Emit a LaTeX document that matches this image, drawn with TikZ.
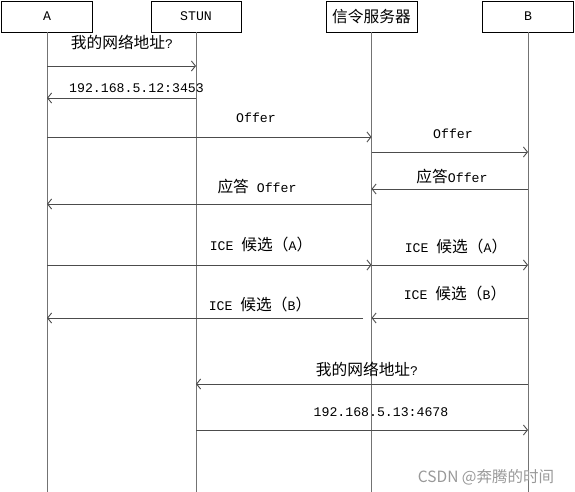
\documentclass[tikz,border=0pt]{standalone}
\usepackage{fontspec}
\setmainfont{Liberation Mono}
\newfontfamily\cjk[Scale=1.19]{Noto Sans CJK SC}
\newfontfamily\wmark{Noto Sans CJK SC}
\usetikzlibrary{arrows.meta}

\tikzset{
    party/.style={draw, line width=0.8pt, minimum width=91pt, minimum height=31pt, inner sep=0pt},
    life/.style={draw=black!55, line width=1pt},
    msg/.style={-{Straight Barb[length=4pt,width=10pt]}, draw=black!70, line width=0.9pt},
    lbl/.style={inner sep=0pt, anchor=base},
}

\begin{document}
\begin{tikzpicture}[x=1pt, y=-1pt, font=\fontsize{13.2}{15}\selectfont]
    \useasboundingbox (0,0) rectangle (575,492);

    \node[party] (A) at (47,16.5) {A};
    \node[party, minimum width=90pt] (STUN) at (196,16.5) {STUN};
    \node[party] (server) at (371.5,16.5) {\cjk 信令服务器};
    \node[party] (B) at (528,16.5) {B};

    \coordinate (Aend) at (47,492);
    \coordinate (STUNend) at (196,492);
    \coordinate (serverend) at (371.5,492);
    \coordinate (Bend) at (528,492);

    \draw[life] (A) -- (Aend);
    \draw[life] (STUN) -- (STUNend);
    \draw[life] (server) -- (serverend);
    \draw[life] (B) -- (Bend);

    % A asks STUN
    \draw[msg] (A |- 0,66) -- (STUN |- 0,66);
    \node[lbl] (ask1) at (122,49) {{\cjk 我的网络地址}?};
    \draw[msg] (STUN |- 0,98) -- (A |- 0,98);
    \node[lbl] (addr1) at (136.5,93) {192.168.5.12:3453};

    % offer and answer
    \draw[msg] (A |- 0,137) -- (server |- 0,137);
    \node[lbl] (offer1) at (256,122) {Offer};
    \draw[msg] (server |- 0,152) -- (B |- 0,152);
    \node[lbl] (offer2) at (453,139) {Offer};
    \draw[msg] (B |- 0,189) -- (server |- 0,189);
    \node[lbl] (answer2) at (452,182) {{\cjk 应答}Offer};
    \draw[msg] (server |- 0,204) -- (A |- 0,204);
    \node[lbl] (answer1) at (257,192) {{\cjk 应答} Offer};

    % candidates
    \draw[msg] (A |- 0,265) -- (server |- 0,265);
    \node[lbl] (candA1) at (261,250) {ICE {\cjk 候选（}A{\cjk ）}};
    \draw[msg] (server |- 0,265) -- (B |- 0,265);
    \node[lbl] (candA2) at (456,252) {ICE {\cjk 候选（}A{\cjk ）}};
    \draw[msg] (B |- 0,318) -- (server |- 0,318);
    \node[lbl] (candB2) at (455,299) {ICE {\cjk 候选（}B{\cjk ）}};
    \coordinate (candBstart) at (363,318);
    \draw[msg] (candBstart) -- (A |- 0,318);
    \node[lbl] (candB1) at (260,310) {ICE {\cjk 候选（}B{\cjk ）}};

    % B asks STUN
    \draw[msg] (B |- 0,384) -- (STUN |- 0,384);
    \node[lbl] (ask2) at (367,375) {{\cjk 我的网络地址}?};
    \draw[msg] (STUN |- 0,430) -- (B |- 0,430);
    \node[lbl] (addr2) at (381,416) {192.168.5.13:4678};

    \node[lbl, text=black!40] (wm) at (486,482) {\wmark\fontsize{15.5}{17}\selectfont CSDN @奔腾的时间};
\end{tikzpicture}
\end{document}
